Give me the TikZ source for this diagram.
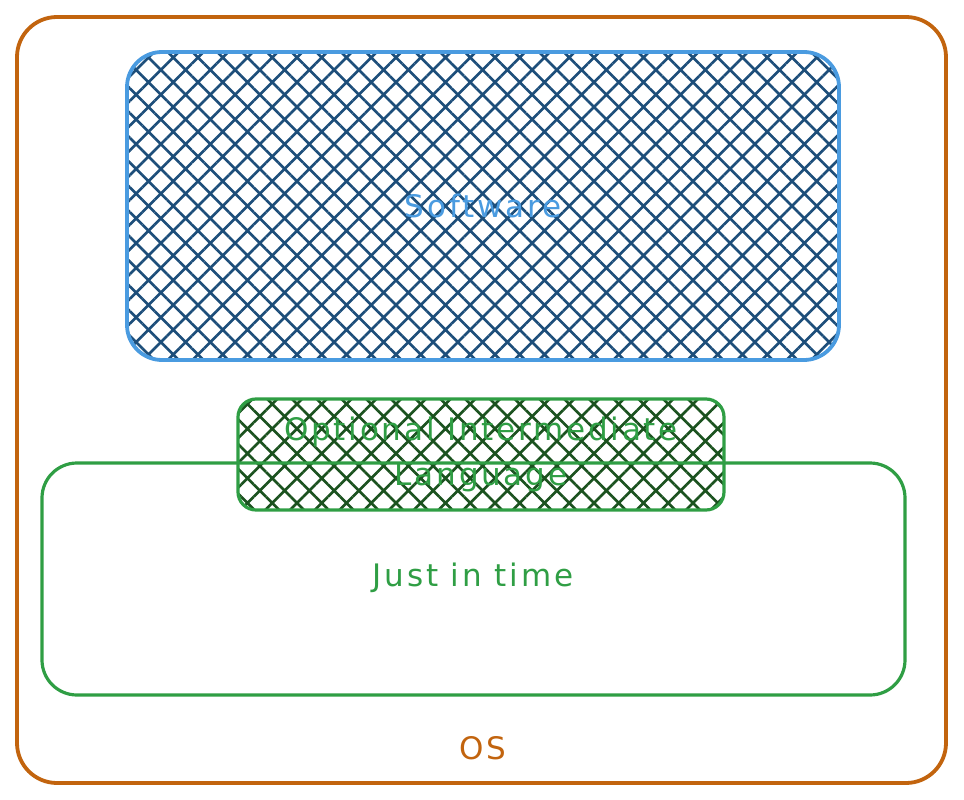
\documentclass[tikz,border=0pt]{standalone}
\usepackage{fontspec}
\usepackage{tikz}
\usepackage{xcolor}
\usetikzlibrary{patterns.meta}
\newfontfamily\sketchfont[LetterSpace=9]{DejaVu Sans}

\definecolor{osorange}{HTML}{C2640E}
\definecolor{swblue}{HTML}{4A9BE0}
\definecolor{swhatch}{HTML}{1D4E7A}
\definecolor{jitgreen}{HTML}{2F9E44}
\definecolor{ilhatch}{HTML}{1B521F}

\begin{document}
\begin{tikzpicture}[
    x=1pt, y=-1pt,
    every node/.style={inner sep=0pt, font=\sketchfont\fontsize{31}{45}\selectfont},
    layerbox/.style={draw, rectangle, line width=3.8pt},
    oslayer/.style={layerbox, draw=osorange, rounded corners=40pt,
        minimum width=929pt, minimum height=766pt},
    swlayer/.style={layerbox, draw=swblue, rounded corners=35pt,
        minimum width=712pt, minimum height=308pt, text=swblue,
        pattern={Hatch[angle=45, distance=17.5pt, line width=2.6pt]}, pattern color=swhatch},
    illayer/.style={layerbox, draw=jitgreen, line width=3.2pt, rounded corners=18pt,
        minimum width=486pt, minimum height=111pt, text=jitgreen, align=center,
        pattern={Hatch[angle=45, distance=17.5pt, line width=2.6pt]}, pattern color=ilhatch},
    jitlayer/.style={layerbox, draw=jitgreen, line width=3.2pt, rounded corners=35pt,
        minimum width=863pt, minimum height=232pt},
]
\useasboundingbox (0,0) rectangle (964,800);

% -------------------------------------------------
% Outer layer
% -------------------------------------------------
\node[oslayer] (os) at (481.5,400) {};
\node[text=osorange] (oslabel) at (483,748) {OS};

% -------------------------------------------------
% Application on top
% -------------------------------------------------
\node[swlayer] (software) at (483,206) {Software};

% -------------------------------------------------
% Runtime: IL sits across the JIT box
% -------------------------------------------------
\node[illayer] (il) at (481,454.5) {};
\node[jitlayer] (jit) at (473.5,579) {};
\node[text=jitgreen] (jitlabel) at (473,578) {Just in time};
\node[text=jitgreen, align=center] (illabel) at (il.center) {Optional Intermediate\\Language};

\end{tikzpicture}
\end{document}
